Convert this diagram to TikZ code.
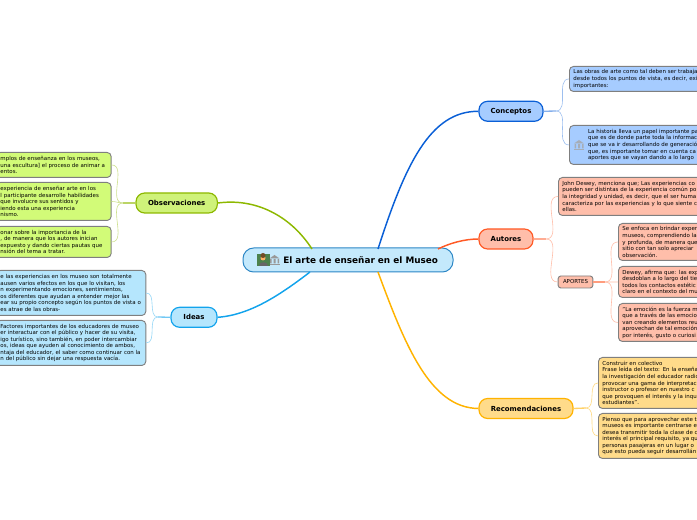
\documentclass[tikz,border=0pt]{standalone}
\usepackage{fontspec}
\setmainfont{DejaVu Sans}
\definecolor{obsfill}{HTML}{CFF27A}
\definecolor{obsline}{HTML}{8DB800}
\definecolor{obsleaf}{HTML}{D2FB78}
\definecolor{ideasfill}{HTML}{B5E6FD}
\definecolor{ideasline}{HTML}{12A3EC}
\definecolor{consfill}{HTML}{A6CCFF}
\definecolor{consline}{HTML}{0A5FD6}
\definecolor{autfill}{HTML}{FFBEAA}
\definecolor{autline}{HTML}{FF5A26}
\definecolor{recfill}{HTML}{FFDB8A}
\definecolor{recline}{HTML}{FFB300}
\definecolor{rootfill}{HTML}{C4E9FC}
\definecolor{rootline}{HTML}{2B86C5}
\definecolor{leafline}{HTML}{7F7F7F}
\tikzset{
  rootnode/.style={draw=rootline,fill=rootfill,line width=.75pt,rounded corners=8pt,minimum width=157.5pt,minimum height=18pt,inner sep=0pt,font=\fontsize{6.65}{8}\selectfont\bfseries},
  mainnode/.style={line width=.9pt,rounded corners=6.5pt,minimum height=15pt,inner sep=0pt,font=\fontsize{5.2}{6}\selectfont\bfseries},
  leafnode/.style 2 args={draw=leafline,line width=.7pt,rounded corners=3pt,anchor=north west,align=left,inner xsep=3pt,inner ysep=0pt,text width=#1,minimum height=#2,font=\fontsize{4.1}{4.9}\selectfont},
  branch/.style={line width=1.1pt},
  twig/.style={line width=.45pt},
  stem/.style={line width=1pt},
}
\newcommand{\museumicon}[3]{%
  \begin{scope}[shift={(#1,#2)},#3]
    \fill (-5,-1.5) -- (0,-5) -- (5,-1.5) -- cycle;
    \fill (-4.5,-1) rectangle (-3,3.5) (-1,-1) rectangle (1,3.5) (3,-1) rectangle (4.5,3.5);
    \fill (-5,3.8) rectangle (5,5);
  \end{scope}}
\begin{document}
\begin{tikzpicture}[x=0.75pt,y=0.75pt,yscale=-1,xscale=1]
\useasboundingbox (0,0) rectangle (697,520);
\clip (0,0) rectangle (697,520);

% Free ends on the root
\coordinate (rootobs) at (312,249);
\coordinate (rootideas) at (310,272);
\coordinate (rootcons) at (378,249);
\coordinate (rootaut) at (438,249);
\coordinate (rootrec) at (378,272);
% Forks
\coordinate (forkobs) at (123,203);
\coordinate (forkideas) at (158,317);
\coordinate (forkcons) at (556,111);
\coordinate (forkaut) at (546,239);
\coordinate (forkapo) at (605,282);
\coordinate (forkrec) at (586,408);

% Text Node
\draw (348,260) node (root) [rootnode] {\hspace*{19pt}El arte de enseñar en el Museo};
% Text Node
\draw (176.7,203) node (obs) [mainnode,draw=obsline,fill=obsfill,minimum width=61pt] {Observaciones};
% Text Node
\draw (194,317.3) node (ideas) [mainnode,draw=ideasline,fill=ideasfill,minimum width=34.5pt] {Ideas};
% Text Node
\draw (511,111.3) node (cons) [mainnode,draw=consline,fill=consfill,minimum width=48pt] {Conceptos};
% Text Node
\draw (506,239) node (aut) [mainnode,draw=autline,fill=autfill,minimum width=40.5pt] {Autores};
% Text Node
\draw (526,408.5) node (rec) [mainnode,draw=recline,fill=recfill,minimum width=70.5pt] {Recomendaciones};
% Text Node
\draw (575.5,282) node (apo) [draw=leafline,fill=autfill,line width=.7pt,rounded corners=2pt,minimum width=26pt,minimum height=9pt,inner sep=0pt,font=\fontsize{4.1}{5}\selectfont] {APORTES};

% Text Node
\draw (-4,152) node (obsa) [leafnode={80pt}{18.75pt},fill=obsleaf] {mplos de enseñanza en los museos,\\una escultura] el proceso de animar a\\entos.};
% Text Node
\draw (-4,182) node (obsb) [leafnode={80pt}{28.5pt},fill=obsleaf] {experiencia de enseñar arte en los\\l participante desarrolle habilidades\\que involucre sus sentidos y\\iendo esta una experiencia\\nismo.};
% Text Node
\draw (-4,226) node (obsc) [leafnode={80pt}{23.25pt},fill=obsleaf] {onar sobre la importancia de la\\, de manera que los autores inician\\expuesto y dando ciertas pautas que\\nsión del tema a tratar.};
% Text Node
\draw (-4,270) node (ideasa) [leafnode={106pt}{33.75pt},fill=ideasfill] {e las experiencias en los museo son totalmente\\ausen varios efectos en los que lo visitan, los\\n experimentando emociones, sentimientos,\\os diferentes que ayudan a entender mejor las\\ear su propio concepto según los puntos de vista o\\es atrae de las obras-};
% Text Node
\draw (-4,320) node (ideasb) [leafnode={106pt}{33.75pt},fill=ideasfill] {Factores importantes de los educadores de museo\\er interactuar con el público y hacer de su visita,\\igo turístico, sino también, en poder intercambiar\\os, ideas que ayuden al conocimiento de ambos,\\ntaja del educador, el saber como continuar con la\\n del público sin dejar una respuesta vacía.};
% Text Node
\draw (569,66) node (consa) [leafnode={200pt}{18.75pt},fill=consfill] {Las obras de arte como tal deben ser trabaja\\desde todos los puntos de vista, es decir, exi\\importantes:};
% Text Node
\draw (569,125) node (consb) [leafnode={200pt}{29.25pt},fill=consfill] {\leftskip=11pt La historia lleva un papel importante pa\\que es de donde parte toda la informac\\que se va ir desarrollando de generació\\que, es importante tomar en cuenta ca\\aportes que se vayan dando a lo largo\par};
% Text Node
\draw (558,177) node (auta) [leafnode={200pt}{28.5pt},fill=autfill] {John Dewey, menciona que; Las experiencias co\\pueden ser distintas de la experiencia común po\\la integridad y unidad, es decir, que el ser huma\\caracteriza por las experiencias y lo que siente c\\ellas.};
% Text Node
\draw (618,223) node (apoa) [leafnode={200pt}{27.75pt},fill=autfill] {Se enfoca en brindar exper\\museos, comprendiendo la\\y profunda, de manera que\\sitio con tan solo apreciar\\observación.};
% Text Node
\draw (618,266) node (apob) [leafnode={200pt}{23.25pt},fill=autfill] {Dewey, afirma que: las exp\\desdoblan a lo largo del tie\\todos los contactos estétic\\claro en el contexto del mu};
% Text Node
\draw (618,303) node (apoc) [leafnode={200pt}{28.5pt},fill=autfill] {"La emoción es la fuerza m\\que a través de las emocio\\van creando elementos reu\\aprovechan de tal emoción\\por interés, gusto o curiosi};
% Text Node
\draw (598,357) node (reca) [leafnode={200pt}{38.25pt},fill=recfill] {Construir en colectivo\\Frase leída del texto: En la enseña\\la investigación del educador radic\\provocar una gama de interpretac\\instructor o  profesor en nuestro c\\que provoquen el interés y la inqu\\estudiantes".};
% Text Node
\draw (598,413) node (recb) [leafnode={200pt}{33.75pt},fill=recfill] {Pienso que para aprovechar este t\\museos es importante centrarse e\\desea transmitir toda la clase de c\\interés el principal requisito, ya qu\\personas pasajeras en un lugar o\\que esto pueda seguir desarrollán};

% Main branches
\draw [branch,obsline] (rootobs) .. controls (290,215) and (255,198) .. (obs.east);
\draw [branch,ideasline] (rootideas) .. controls (280,295) and (250,315) .. (ideas.east);
\draw [branch,consline] (rootcons) .. controls (405,165) and (430,111) .. (cons.west);
\draw [branch,autline] (rootaut) .. controls (450,243) and (465,239) .. (aut.west);
\draw [branch,recline] (rootrec) .. controls (405,345) and (430,408) .. (rec.west);

% Stems
\draw [stem,obsline!60] (obs.west) -- (forkobs);
\draw [stem,ideasline!60] (ideas.west) -- (forkideas);
\draw [stem,consline!50] (cons.east) -- (forkcons);
\draw [stem,autline!50] (aut.east) -- (forkaut);
\draw [stem,autline!60] (apo.east) -- (forkapo);
\draw [stem,recline!60] (rec.east) -- (forkrec);

% Twigs
\foreach \leaf in {obsa,obsb,obsc}
  \draw [twig,obsline!45] (forkobs) to [out=180,in=0] (\leaf.east);
\foreach \leaf in {ideasa,ideasb}
  \draw [twig,ideasline!45] (forkideas) to [out=180,in=0] (\leaf.east);
\foreach \leaf in {consa,consb}
  \draw [twig,consline!40] (forkcons) to [out=0,in=180] (\leaf.west);
\foreach \leaf in {auta,apo}
  \draw [twig,autline!40] (forkaut) to [out=0,in=180] (\leaf.west);
\foreach \leaf in {apoa,apob,apoc}
  \draw [twig,autline!40] (forkapo) to [out=0,in=180] (\leaf.west);
\foreach \leaf in {reca,recb}
  \draw [twig,recline!50] (forkrec) to [out=0,in=180] (\leaf.west);

% Icons
\museumicon{579}{145}{black!35,opacity=.8}
\museumicon{274.5}{260}{black!40}
\fill [green!30!black!70] (257,254) rectangle (270,266);
\fill [orange!60!white] (263,258) circle [radius=2.5];
\fill [brown!60!black] (263,255.5) circle [radius=2.5];
\fill [black!60] (258.5,266) .. controls (258.5,261) and (267.5,261) .. (267.5,266) -- cycle;

\end{tikzpicture}
\end{document}
